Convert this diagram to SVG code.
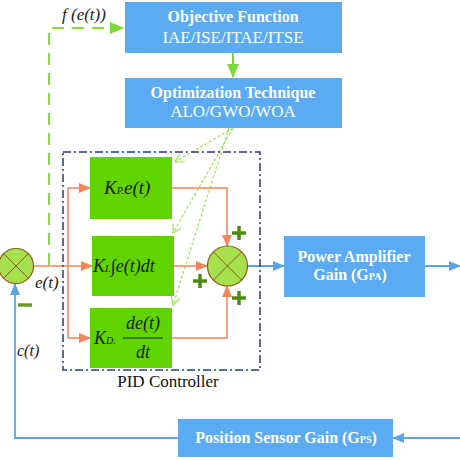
<svg xmlns="http://www.w3.org/2000/svg" width="460" height="460" viewBox="0 0 460 460">
<defs>
<style>
text{font-family:"Liberation Serif","Times New Roman",serif}
.bb{fill:#5aabf2}
.gb{fill:#5fd400}
.bt{font-weight:bold;font-size:16px;fill:#fff;text-anchor:middle}
.rt{font-size:17px;fill:#fff;text-anchor:middle}
.mt{font-style:italic;fill:#1a1a1a}
.or{stroke:#f4845a;stroke-width:1.5;fill:none}
.bl{stroke:#5aa5e8;stroke-width:1.8;fill:none}
.sum{fill:#a6e04c;stroke:#8b5a1a;stroke-width:1.2}
.x{stroke:#8b5a1a;stroke-width:1}
.plus{stroke:#4f8a10;stroke-width:3.5;fill:none}
.dot{stroke:#9ae35a;stroke-width:1.2;stroke-dasharray:3 2;fill:none}
</style>
<marker id="ao" markerWidth="12" markerHeight="10" refX="11" refY="5" orient="auto" markerUnits="userSpaceOnUse"><path d="M0,0 L12,5 L0,10 Z" fill="#f4845a"/></marker>
<marker id="ab" markerWidth="12" markerHeight="10" refX="11" refY="5" orient="auto" markerUnits="userSpaceOnUse"><path d="M0,0 L12,5 L0,10 Z" fill="#5aa5e8"/></marker>
<marker id="ag" markerWidth="14" markerHeight="12" refX="13" refY="6" orient="auto" markerUnits="userSpaceOnUse"><path d="M0,0 L14,6 L0,12 Z" fill="#7ed83a"/></marker>
<marker id="av" markerWidth="10" markerHeight="10" refX="9" refY="5" orient="auto" markerUnits="userSpaceOnUse"><path d="M0,0 L9,5 L0,10" fill="none" stroke="#9ae35a" stroke-width="1.2"/></marker>
</defs>
<rect width="460" height="460" fill="#fff"/>

<g id="connectors">
<path d="M49,265 V28 H123" fill="none" stroke="#86dc3c" stroke-width="2" stroke-dasharray="12 8" marker-end="url(#ag)"/>
<path d="M233,53 V77" fill="none" stroke="#7ed83a" stroke-width="2" marker-end="url(#ag)"/>
<path class="dot" d="M233,128 L175,162" marker-end="url(#av)"/>
<path class="dot" d="M233,128 L173,233" marker-end="url(#av)"/>
<path class="dot" d="M229,128 L173,305" marker-end="url(#av)"/>
<path class="or" d="M34,266 H92" marker-end="url(#ao)"/>
<path class="or" d="M68,266 V188 H90" marker-end="url(#ao)"/>
<path class="or" d="M68,266 V338 H90" marker-end="url(#ao)"/>
<path class="or" d="M172,188 H227 V246" marker-end="url(#ao)"/>
<path class="or" d="M174,266 H207" marker-end="url(#ao)"/>
<path class="or" d="M172,338 H227 V286" marker-end="url(#ao)"/>
<path class="bl" d="M248,266 H284" marker-end="url(#ab)"/>
<path class="bl" d="M425,266 H460" marker-end="url(#ab)"/>
<path class="bl" d="M460,438 H393" marker-end="url(#ab)"/>
<path class="bl" d="M178,438 H15 V284" marker-end="url(#ab)"/>
</g>

<g id="pid-frame">
<rect x="63" y="152" width="197" height="218" fill="none" stroke="#2a3a6a" stroke-width="1.5" stroke-dasharray="8 3 2 3"/>
<text x="168" y="387" font-size="17" fill="#111" text-anchor="middle">PID Controller</text>
</g>

<g id="objective">
<rect class="bb" x="125" y="2" width="217" height="51"/>
<text class="bt" x="233" y="22">Objective Function</text>
<text class="rt" x="233" y="43">IAE/ISE/ITAE/ITSE</text>
</g>

<g id="optimization">
<rect class="bb" x="125" y="78" width="217" height="50"/>
<text class="bt" x="233" y="98">Optimization Technique</text>
<text class="rt" x="233" y="117">ALO/GWO/WOA</text>
</g>

<g id="kp">
<rect class="gb" x="90" y="157" width="82" height="62"/>
<text class="mt" x="104" y="194" font-size="19">K<tspan font-size="10">P.</tspan>e(t)</text>
</g>

<g id="ki">
<rect class="gb" x="92" y="236" width="82" height="60"/>
<text class="mt" x="93" y="272" font-size="18">K<tspan font-size="10">I.</tspan>∫e(t)dt</text>
</g>

<g id="kd">
<rect class="gb" x="90" y="308" width="82" height="60"/>
<text class="mt" x="94" y="344" font-size="18">K<tspan font-size="10">D.</tspan></text>
<text class="mt" x="143" y="329" font-size="18" text-anchor="middle">de(t)</text>
<line x1="123" y1="338" x2="163" y2="338" stroke="#1a1a1a" stroke-width="1"/>
<text class="mt" x="143" y="358" font-size="18" text-anchor="middle">dt</text>
</g>

<g id="sum1">
<circle class="sum" cx="16" cy="266" r="17.5"/>
<path class="x" d="M3.6,253.6 L28.4,278.4 M28.4,253.6 L3.6,278.4"/>
<text class="mt" x="35" y="288" font-size="17">e(t)</text>
<text class="mt" x="17" y="356" font-size="16">c(t)</text>
<path d="M18,305 H32" stroke="#6a9a2a" stroke-width="3.5"/>
</g>

<g id="sum2">
<circle class="sum" cx="227.5" cy="266" r="20"/>
<path class="x" d="M213.4,251.9 L241.6,280.1 M241.6,251.9 L213.4,280.1"/>
<path class="plus" d="M232,233 H246 M239,226 V240"/>
<path class="plus" d="M193,281 H207 M200,274 V288"/>
<path class="plus" d="M232,298 H246 M239,291 V305"/>
</g>

<g id="amplifier">
<rect class="bb" x="284" y="236" width="141" height="61"/>
<text class="bt" x="354" y="262">Power Amplifier</text>
<text class="bt" x="350" y="280">Gain (G<tspan font-size="10">PA</tspan>)</text>
</g>

<g id="sensor">
<rect class="bb" x="178" y="419" width="215" height="38"/>
<text class="bt" x="286" y="443">Position Sensor Gain (G<tspan font-size="10">PS</tspan>)</text>
</g>

<g id="fet-label">
<text class="mt" x="62" y="20" font-size="17">f (e(t))</text>
</g>
</svg>
